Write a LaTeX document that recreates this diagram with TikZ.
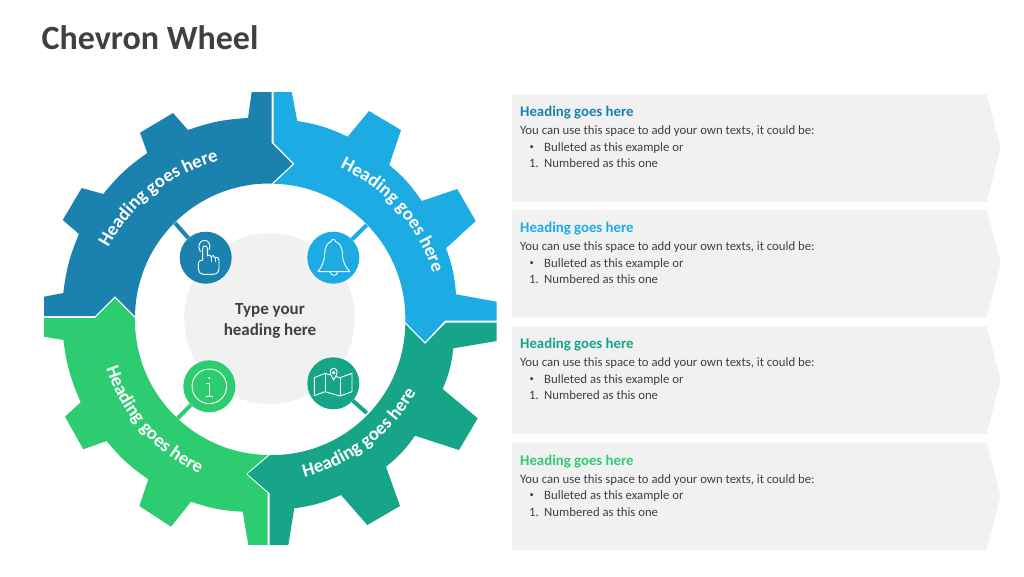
\documentclass[tikz,border=0pt]{standalone}
\usepackage{fontspec}
\setmainfont{Carlito}
\usetikzlibrary{decorations.text}
\definecolor{cdark}{HTML}{1B82B0}
\definecolor{clight}{HTML}{1DABE3}
\definecolor{cteal}{HTML}{17A589}
\definecolor{cgreen}{HTML}{2ECC71}
\definecolor{cpanel}{HTML}{F1F1F1}
\definecolor{ctext}{HTML}{404040}
\newcommand{\fs}[1]{\fontsize{#1}{#1}\selectfont}
\tikzset{
  x=1pt,y=-1pt,
  seg/.style={fill=#1,draw=none},
  arcout/.style={bend left=8},
  arcin/.style={bend right=45},
  icon/.style={circle,fill=#1,draw=none,minimum size=52pt,inner sep=0pt},
  stem/.style={draw=#1,line width=4pt},
  glyph/.style={draw=white,line width=.9pt,line join=round,line cap=round},
  panelbox/.style={fill=cpanel,draw=none},
  headline/.style={anchor=base west,inner sep=0pt,font=\fs{14.8}\bfseries,text=#1},
  bodyline/.style={anchor=base west,inner sep=0pt,font=\fs{12.75},text=ctext},
  curved/.style={text=white,decorate,decoration={text along path,text align=center,
     text={|\fs{18.8}\bfseries\color{white}|Heading goes here}}},
}
\begin{document}
\begin{tikzpicture}
\useasboundingbox (0,0) rectangle (1024,576);
\node[anchor=base west,inner sep=0pt,font=\fs{34}\bfseries,text=ctext] (title) at (41.5,49) {Chevron Wheel};

% panels
\foreach \i/\t/\c/\hb/\ba/\bb/\bc in {1/94.3/cdark/116/134/151/167, 2/210/clight/232/250/267/283, 3/326.3/cteal/348/366/383/399, 4/442.5/cgreen/465/483/499/516}{
  \path[panelbox] (512,\t) -- (986.7,\t) -- (1000.7,\t+53.5) -- (986.7,\t+107.5) -- (512,\t+107.5) -- cycle;
  \node[headline=\c] (h\i) at (520,\hb) {Heading goes here};
  \node[bodyline] (a\i) at (520,\ba) {You can use this space to add your own texts, it could be:};
  \node[bodyline,font=\fs{8.5}] (bu\i) at (529.5,\bb-1.5) {•};
  \node[bodyline] (b\i) at (544,\bb) {Bulleted as this example or};
  \node[bodyline] (nu\i) at (529,\bc) {1.};
  \node[bodyline] (c\i) at (544,\bc) {Numbered as this one};
}

% centre
\fill[cpanel] (269.5,318.7) circle[radius=85.3];
\node[font=\fs{17}\bfseries,text=ctext,align=center,inner sep=0pt] (centre) at (270,321) {Type your\\[3.4pt]heading here};

% wheel
\path[seg=cdark] (44,316) -- (44,296.7) -- (63.3,293) to[arcout] (79,234) -- (62.7,220) -- (81.7,188) -- (103.3,194)
  to[arcout] (147.3,153) -- (140,132.7) -- (173,113) -- (188,130) to[arcout] (248,118) -- (251.7,92) -- (271.5,92)
  -- (271.5,143) -- (292.5,164) -- (271.5,183.5) to[arcin] (135,316) -- (115,296) -- (95,316) -- cycle;
\path[seg=clight] (273.5,92) -- (291.7,92) -- (297.3,121) to[arcout] (347.7,136.7) -- (369,111) -- (401,130) -- (389.3,165)
  to[arcout] (421.7,201) -- (457.3,189) -- (475.7,221) -- (446,248.3) to[arcout] (456,294.3) -- (496.7,301.7) -- (496.7,320.5)
  -- (445,320.5) -- (425,342) -- (405.3,322) to[arcin] (273.5,183.7) -- (294.5,164) -- (273.5,142.5) -- cycle;
\path[seg=cteal] (496.7,322.5) -- (496.7,341) -- (453.3,348.3) to[arcout] (442.7,389) -- (477.7,418.3) -- (459,450) -- (415,435.7)
  to[arcout] (386,466.7) -- (400,506) -- (367.3,525) -- (341,495) to[arcout] (294.3,508.3) -- (288.3,545) -- (269.5,545)
  -- (269.5,493) -- (247.5,474) -- (270,455) to[bend right=45] (405.3,324) -- (425,344) -- (446,322.5) -- cycle;
\path[seg=cgreen] (44,318) -- (44,336.7) -- (63.3,340) to[bend right=8] (80.7,402.3) -- (65,416.7) -- (83.3,449.3) -- (106.7,441)
  to[bend right=8] (148.3,479.3) -- (139.3,506) -- (171,526.7) -- (191,501.7) to[bend right=8] (242.7,511.7) -- (248.3,545) -- (267.5,545)
  -- (267.5,493) -- (246,474) -- (268,455) to[bend left=45] (135,318) -- (115,298) -- (95,318) -- cycle;

% curved labels
\path[curved] (108,248) to[bend left=23.5,looseness=.9] (219,161);
\path[curved] (340,168) to[bend left=24,looseness=.9] (433,273);
\path[curved] (105,365) to[bend right=25,looseness=.9] (203,475);
\path[curved] (301,478) to[bend right=24,looseness=.9] (418,389);

% icons and connectors
\coordinate (ra) at (175,223);
\coordinate (rb) at (366.7,225);
\coordinate (rc) at (177.7,418.3);
\coordinate (rd) at (366.7,413);
\node[icon=cdark] (ia) at (205.7,257.7) {};
\node[icon=clight] (ib) at (333.3,257.7) {};
\node[icon=cgreen] (ic) at (209.3,386.3) {};
\node[icon=cteal] (id) at (333.3,383.3) {};
\draw[stem=cdark] (ia) -- (ra);
\draw[stem=clight] (ib) -- (rb);
\draw[stem=cgreen] (ic) -- (rc);
\draw[stem=cteal] (id) -- (rd);

\begin{scope}[shift={(170,220)},x=1pt/3,y=-1pt/3]
  % hand
  \draw[glyph] (98,120) -- (98,85) .. controls (98,75) and (112,75) .. (112,85) -- (112,108)
     .. controls (116,102) and (122,104) .. (123,110) .. controls (127,104) and (133,106) .. (135,113)
     .. controls (139,109) and (147,112) .. (147,120) -- (147,145) .. controls (147,158) and (138,163) .. (128,163)
     -- (100,163) .. controls (92,163) and (85,157) .. (85,148) -- (85,130) .. controls (85,124) and (90,120) .. (98,120);
  \draw[glyph] (91,95) .. controls (80,78) and (90,60) .. (104,61) .. controls (116,61) and (124,75) .. (117,90);
  \draw[glyph] (123,110) -- (123,124) (135,113) -- (135,124);
  % bell
  \draw[glyph] (444,155) -- (540,155) .. controls (525,140) and (518,125) .. (517,100)
     .. controls (516,75) and (505,68) .. (497,65) .. controls (497,56) and (483,56) .. (483,65)
     .. controls (475,68) and (466,75) .. (464,100) .. controls (463,125) and (456,140) .. (444,155) -- cycle;
  \draw[glyph] (480,155) .. controls (482,170) and (502,170) .. (503,155);
  % info
  \draw[glyph] (118,499) circle[radius=17.3pt];
  \fill[white] (118,474) circle[radius=1.1pt];
  \draw[glyph] (110,490) -- (118,490) -- (118,528) (108,528) -- (128,528);
  % map
  \draw[glyph] (433,473) -- (465,460) -- (510,473) -- (546,460) -- (546,515) -- (510,528) -- (465,515) -- (433,527) -- cycle;
  \draw[glyph] (465,460) -- (465,515) (510,473) -- (510,528);
  \draw[glyph,fill=cteal] (491,480) -- (483,465) .. controls (476,452) and (486,445) .. (491,445) .. controls (496,445) and (506,452) .. (499,465) -- cycle;
  \draw[glyph] (491,458) circle[radius=1.2pt];
\end{scope}
\end{tikzpicture}
\end{document}
